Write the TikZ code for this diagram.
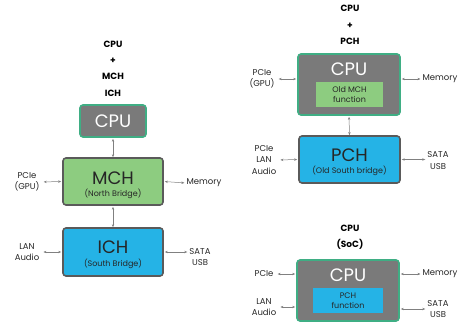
\documentclass[tikz,border=0pt]{standalone}
\usepackage{fontspec}
\setmainfont{Poppins}
\usetikzlibrary{arrows.meta}
\definecolor{cgray}{HTML}{7A7A7A}
\definecolor{cgborder}{HTML}{3FAE84}
\definecolor{cgreen}{HTML}{8DCC80}
\definecolor{cblue}{HTML}{25B3E6}
\definecolor{cdark}{HTML}{5A5A5A}
\definecolor{ctext}{HTML}{262626}
\definecolor{carrow}{HTML}{808080}
\begin{document}
\begin{tikzpicture}[x=1pt,y=-1pt,
  box/.style={rectangle,rounded corners=3pt,line width=1.6pt,inner sep=0pt},
  graybox/.style={box,fill=cgray,draw=cgborder},
  greenbox/.style={box,fill=cgreen,draw=cdark},
  bluebox/.style={box,fill=cblue,draw=cdark},
  innergreen/.style={rectangle,fill=cgreen,inner sep=0pt},
  innerblue/.style={rectangle,fill=cblue,inner sep=0pt},
  big/.style={font=\fontsize{18}{18}\selectfont,text=white},
  bigdark/.style={font=\fontsize{18}{18}\selectfont,text=ctext},
  sub/.style={font=\fontsize{8}{10}\selectfont,text=ctext,align=center},
  lab/.style={font=\fontsize{8.5}{11.5}\selectfont,text=ctext,align=center,inner sep=1pt},
  ttl/.style={font=\bfseries\fontsize{9}{16.3}\selectfont,text=black,align=center},
  conn/.style={draw=carrow,line width=0.5pt,{Stealth[length=3pt,width=2.4pt]}-{Stealth[length=3pt,width=2.4pt]}}
]
\useasboundingbox (0,0) rectangle (474,326);

% ---------- left column ----------
\node[ttl] (t1) at (113,68.5) {CPU\\+\\MCH\\ICH};
\node[graybox,minimum width=66pt,minimum height=32pt] (cpu1) at (113,121) {};
\node[big] (cpu1t) at (113,121) {CPU};
\node[greenbox,minimum width=100pt,minimum height=47pt] (mch) at (113,181.5) {};
\node[bigdark] (mcht) at (113,178) {MCH};
\node[sub] (mchs) at (113,194) {(North Bridge)};
\node[bluebox,minimum width=100pt,minimum height=48pt] (ich) at (113,252) {};
\node[bigdark] (icht) at (113,247) {ICH};
\node[sub] (ichs) at (113,264) {(South Bridge)};

\node[lab] (l1a) at (27,182) {PCIe\\(GPU)};
\node[lab] (l1b) at (204,183) {Memory};
\node[lab] (l1c) at (27,252) {LAN\\Audio};
\node[lab] (l1d) at (200,257) {SATA\\USB};

\draw[conn,shorten <=1pt] (cpu1.south) -- (mch.north);
\draw[conn,shorten <=1pt] (mch.south) -- (ich.north);
\draw[conn,shorten <=3pt,shorten >=1pt] (l1a.east) -- (mch.west);
\draw[conn,shorten <=1pt,shorten >=1pt] (mch.east) -- (l1b.west);
\draw[conn,shorten <=3pt,shorten >=1pt] (l1c.east) -- (ich.west);
\draw[conn,shorten <=1pt,shorten >=1pt] (ich.east) -- (l1d.west |- ich.east);

% ---------- right top ----------
\node[ttl] (t2) at (350,25) {CPU\\+\\PCH};
\node[graybox,minimum width=102pt,minimum height=61pt] (cpu2) at (349,84.5) {};
\node[big] (cpu2t) at (349,69) {CPU};
\node[innergreen,minimum width=67pt,minimum height=25pt] (omch) at (349.5,94.5) {};
\node[sub] (omcht) at (349.5,94.5) {Old MCH\\function};
\node[bluebox,minimum width=101pt,minimum height=47pt] (pch) at (349.5,159.5) {};
\node[bigdark] (pcht) at (349.5,155) {PCH};
\node[sub] (pchs) at (349.5,171) {(Old South bridge)};

\node[lab] (l2a) at (262,79) {PCIe\\(GPU)};
\node[lab] (l2b) at (440,79) {Memory};
\node[lab] (l2c) at (264,160) {PCIe\\LAN\\Audio};
\node[lab] (l2d) at (438,160.5) {SATA\\USB};

\draw[conn,shorten <=1pt] (cpu2.south) -- (pch.north);
\draw[conn,shorten <=3pt,shorten >=1pt] (l2a.east) -- (cpu2.west |- l2a.east);
\draw[conn,shorten <=1pt,shorten >=1pt] (cpu2.east |- l2b.west) -- (l2b.west);
\draw[conn,shorten <=3pt,shorten >=1pt] (l2c.east) -- (pch.west);
\draw[conn,shorten <=1pt,shorten >=1pt] (pch.east) -- (l2d.west |- pch.east);

% ---------- right bottom ----------
\node[ttl] (t3) at (350,237) {CPU\\(SoC)};
\node[graybox,minimum width=102pt,minimum height=61pt] (cpu3) at (348,290.5) {};
\node[big] (cpu3t) at (348,275) {CPU};
\node[innerblue,minimum width=70pt,minimum height=25pt] (pchf) at (348,300.5) {};
\node[sub] (pchft) at (348,300.5) {PCH\\function};

\node[lab] (l3a) at (264,274) {PCIe};
\node[lab] (l3b) at (440,274) {Memory};
\node[lab] (l3c) at (264,307) {LAN\\Audio};
\node[lab] (l3d) at (438,309) {SATA\\USB};

\draw[conn,shorten <=3pt,shorten >=1pt] (l3a.east) -- (cpu3.west |- l3a.east);
\draw[conn,shorten <=1pt,shorten >=1pt] (cpu3.east |- l3b.west) -- (l3b.west);
\draw[conn,shorten <=3pt,shorten >=1pt] (l3c.east) -- (cpu3.west |- l3c.east);
\draw[conn,shorten <=1pt,shorten >=1pt] (cpu3.east |- l3d.west) -- (l3d.west);
\end{tikzpicture}
\end{document}
